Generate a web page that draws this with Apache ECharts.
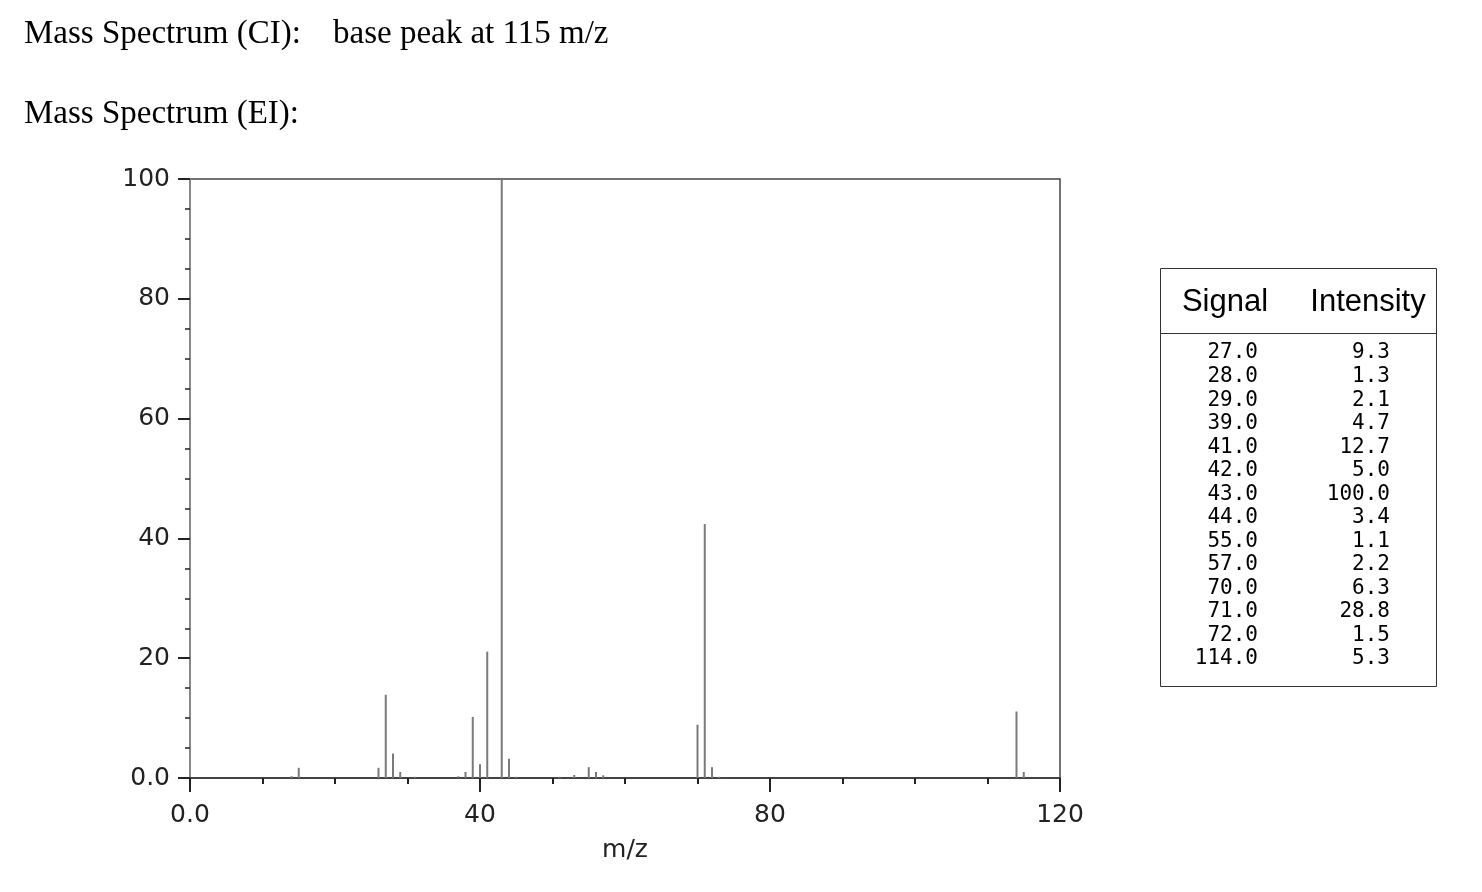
<!DOCTYPE html>
<html>
<head>
<meta charset="utf-8">
<script src="https://cdn.jsdelivr.net/npm/echarts@6/dist/echarts.min.js"></script>
<style>
html,body{margin:0;padding:0;background:#fff;}
#chart{width:1482px;height:892px;}
</style>
</head>
<body>
<div id="chart"></div>
<script>
// Peaks as drawn in the spectrum (m/z, relative intensity)
var mzValues    = [14, 15, 26, 27, 28, 29, 31, 37, 38, 39, 40, 41, 43, 44, 45, 51, 53, 55, 56, 57, 70, 71, 72, 73, 114, 115];
var intensities = [0.3, 1.7, 1.7, 13.9, 4.1, 1.0, 0.2, 0.3, 1.0, 10.2, 2.3, 21.1, 100, 3.2, 0.2, 0.2, 0.5, 1.8, 1.0, 0.45, 8.9, 42.4, 1.8, 0.2, 11.1, 1.0];

// Peak table
var tableSignals     = ['27.0','28.0','29.0','39.0','41.0','42.0','43.0','44.0','55.0','57.0','70.0','71.0','72.0','114.0'];
var tableIntensities = ['9.3','1.3','2.1','4.7','12.7','5.0','100.0','3.4','1.1','2.2','6.3','28.8','1.5','5.3'];
var tableHeaders     = ['Signal', 'Intensity'];

var titleCI  = 'Mass Spectrum (CI):';
var titleCI2 = 'base peak at 115 m/z';
var titleEI  = 'Mass Spectrum (EI):';

var chart = echarts.init(document.getElementById('chart'));

var seriesData = mzValues.map(function (m, i) { return [m, intensities[i]]; });

function fmt(v) { return v === 0 ? '0.0' : String(v); }

var serif = '33px "Liberation Serif", "DejaVu Serif", serif';
var mono = '21px "DejaVu Sans Mono", "Liberation Mono", monospace';
var graphics = [
  { type: 'text', style: { text: titleCI, x: 24, y: 51, font: serif, fill: '#000', textVerticalAlign: 'bottom' } },
  { type: 'text', style: { text: titleCI2, x: 333, y: 51, font: serif, fill: '#000', textVerticalAlign: 'bottom' } },
  { type: 'text', style: { text: titleEI, x: 24, y: 131, font: serif, fill: '#000', textVerticalAlign: 'bottom' } },
  { type: 'rect', shape: { x: 1160.5, y: 268.5, width: 276, height: 418 }, style: { fill: 'none', stroke: '#333', lineWidth: 1 } },
  { type: 'line', shape: { x1: 1160, y1: 333.5, x2: 1436, y2: 333.5 }, style: { stroke: '#333', lineWidth: 1 } },
  { type: 'text', style: { text: tableHeaders[0], x: 1225, y: 302, font: '31px "Liberation Sans", Arial, sans-serif', fill: '#000', textAlign: 'center', textVerticalAlign: 'middle' } },
  { type: 'text', style: { text: tableHeaders[1], x: 1368, y: 302, font: '31px "Liberation Sans", Arial, sans-serif', fill: '#000', textAlign: 'center', textVerticalAlign: 'middle' } }
];
tableSignals.forEach(function (s, i) {
  var y = 353 + i * 23.54;
  graphics.push({ type: 'text', style: { text: s, x: 1258, y: y, font: mono, fill: '#000', textAlign: 'right', textVerticalAlign: 'middle' } });
  graphics.push({ type: 'text', style: { text: tableIntensities[i], x: 1390, y: y, font: mono, fill: '#000', textAlign: 'right', textVerticalAlign: 'middle' } });
});

chart.setOption({
  animation: false,
  backgroundColor: '#fff',
  grid: { left: 190, right: 422, top: 179, bottom: 114, show: true, borderColor: '#444', borderWidth: 1.5, backgroundColor: 'transparent' },
  xAxis: {
    type: 'value', min: 0, max: 120, interval: 40,
    name: 'm/z', nameLocation: 'middle', nameGap: 60,
    nameTextStyle: { fontFamily: 'DejaVu Sans', fontSize: 25, color: '#222' },
    axisLine: { show: true, onZero: false, lineStyle: { color: '#444', width: 2 } },
    axisTick: { show: true, length: 14, lineStyle: { color: '#222', width: 2 } },
    minorTick: { show: true, splitNumber: 4, length: 6, lineStyle: { color: '#222', width: 2 } },
    axisLabel: { margin: 25, fontFamily: 'DejaVu Sans', fontSize: 25, color: '#222', formatter: fmt },
    splitLine: { show: false }
  },
  yAxis: {
    type: 'value', min: 0, max: 100, interval: 20,
    axisLine: { show: true, lineStyle: { color: '#888', width: 2 } },
    axisTick: { show: true, length: 12, lineStyle: { color: '#222', width: 2 } },
    minorTick: { show: true, splitNumber: 4, length: 5, lineStyle: { color: '#222', width: 1.5 } },
    axisLabel: { margin: 20, fontFamily: 'DejaVu Sans', fontSize: 25, color: '#222', formatter: fmt, padding: [4, 0, 0, 0] },
    splitLine: { show: false }
  },
  series: [{
    type: 'bar',
    data: seriesData,
    barWidth: 2,
    itemStyle: { color: '#7a7a7a' },
    silent: true
  }],
  graphic: graphics
});
</script>
</body>
</html>
